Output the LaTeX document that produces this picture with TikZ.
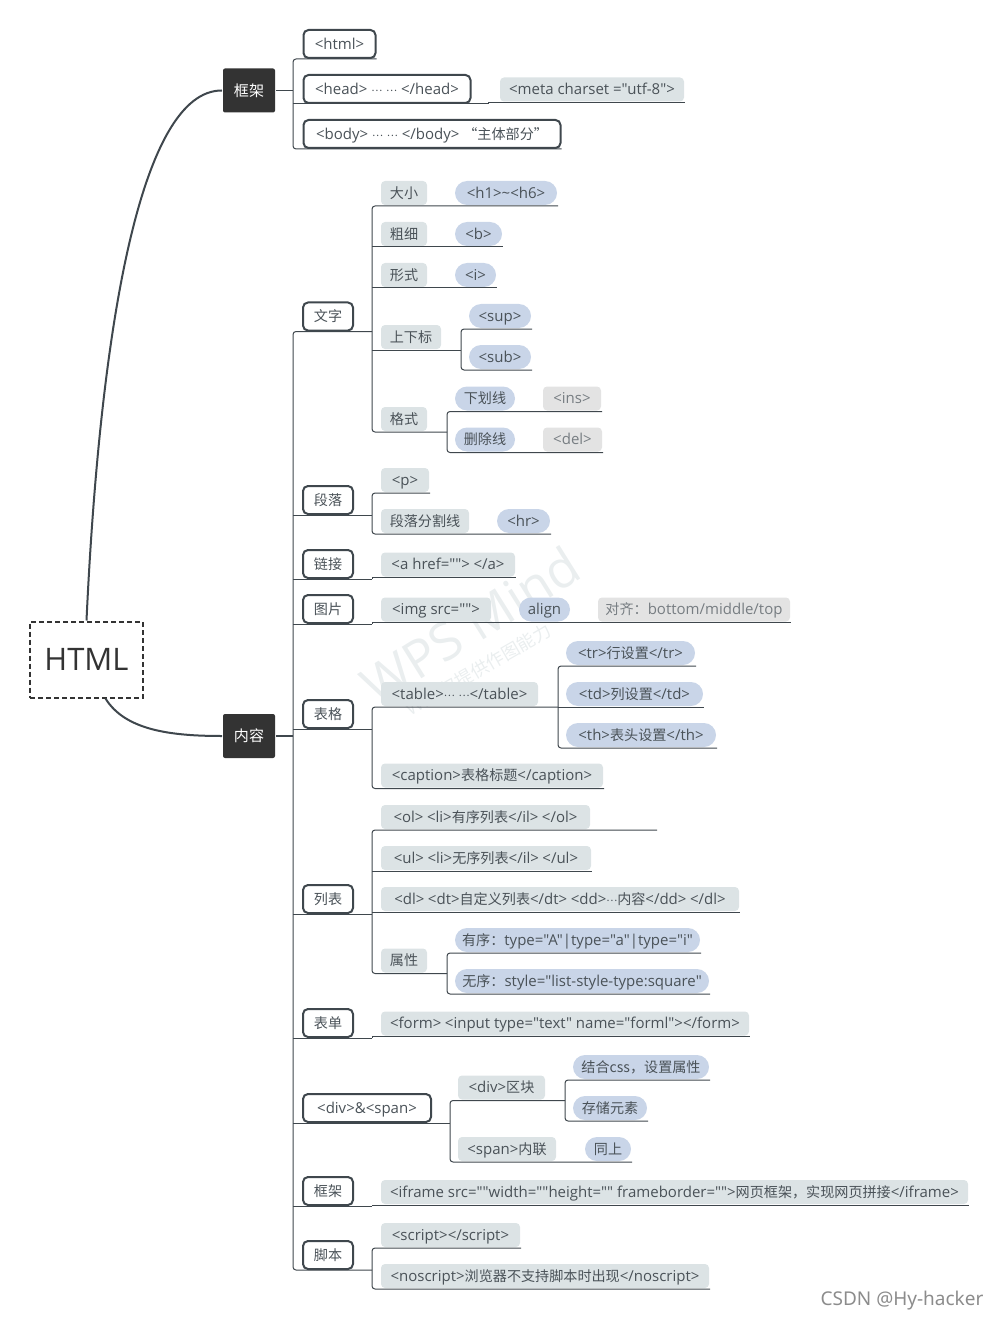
\documentclass[tikz,border=0pt]{standalone}
\usepackage{fontspec}
\setmainfont{Open Sans}[Ligatures=TeXOff]
\newfontfamily\cjk{Noto Sans CJK SC}[Ligatures=TeXOff, Scale=0.94]
\newfontfamily\signfont{Noto Sans}
\newcommand{\zh}[1]{{\cjk #1}}
\newcommand{\middots}{\raisebox{3pt}{\zh{\fontsize{11}{11}\selectfont ⋯}}}
\newcommand{\taggap}{\hspace{3.5pt}}
\usetikzlibrary{calc}
\definecolor{mydark}{HTML}{333333}
\definecolor{myline}{HTML}{3F474D}
\definecolor{mytext}{HTML}{4A5258}
\definecolor{mygrey}{HTML}{DCE3E5}
\definecolor{myblue}{HTML}{C9D5E8}
\definecolor{mylight}{HTML}{E3E3E3}

\begin{document}
\begin{tikzpicture}[x=1pt, y=-1pt, outer sep=1pt]
\useasboundingbox (0,0) rectangle (999,1321);
\tikzset{RootStyle/.style = {draw=mydark, line width=2pt, dash pattern=on 5pt off 3pt, minimum width=113pt, minimum height=76pt, inner sep=0pt, text=mydark, font=\fontsize{31}{31}\selectfont}}
\tikzset{TopicStyle/.style = {fill=mydark, rounded corners=2pt, minimum width=52pt, minimum height=44pt, inner sep=0pt, text=white, font=\fontsize{16}{16}\selectfont}}
\tikzset{RowStyle/.style = {inner sep=0pt, text=mytext, text height=13.5pt, text depth=3pt, font=\fontsize{15}{15}\selectfont}}
\tikzset{FrameStyle/.style = {RowStyle, draw=myline, line width=2pt, fill=white, rounded corners=5pt, minimum height=28pt}}
\tikzset{GreyStyle/.style = {RowStyle, fill=mygrey, rounded corners=4pt, minimum height=24pt}}
\tikzset{BlueStyle/.style = {GreyStyle, fill=myblue, rounded corners=12pt}}
\tikzset{LightStyle/.style = {GreyStyle, fill=mylight, text=mytext!75}}
\tikzset{LinkStyle/.style = {draw=myline, line width=1pt, rounded corners=3pt}}
\tikzset{CurveStyle/.style = {draw=myline, line width=2pt}}

% watermark
\node[rotate=32, text=mygrey!60, font=\fontsize{52}{52}\selectfont] (mark-a) at (470,625) {WPS Mind};
\node[rotate=30, text=mygrey!60, font=\fontsize{19}{19}\selectfont] (mark-b) at (478,670) {WPS\zh{仅提供作图能力}};

% centre and the two topics
\node[RootStyle] (root) at (86.5,659.5) {HTML};
\node[TopicStyle] (frame) at (249,90.5) {\zh{框架}};
\node[TopicStyle] (content) at (249,736) {\zh{内容}};
\draw[CurveStyle] (root.north) .. controls (100,330) and (140,90) .. (frame.west);
\draw[CurveStyle] ([xshift=19pt]root.south) .. controls (125,730) and (170,736) .. (content.west);

% spines
\coordinate (main-spine) at (293,0);
\coordinate (sub-spine) at (372,0);
\coordinate (div-spine) at (450,0);
\coordinate (sup-spine) at (461,0);
\coordinate (fmt-spine) at (447,0);
\coordinate (tab-spine) at (558,0);
\coordinate (box-spine) at (565,0);

% frame part
\node[FrameStyle, minimum width=72pt] (f-html) at (339.5,44) {<html>};
\node[FrameStyle, minimum width=167pt] (f-head) at (387,89) {<head> \middots\ \middots\ </head>};
\node[FrameStyle, minimum width=257pt] (f-body) at (432,134) {<body> \middots\ \middots\ </body> \zh{“主体部分”}};
\node[GreyStyle, minimum width=184pt] (f-meta) at (592,89.5) {<meta charset ="utf-8">};
\draw[LinkStyle] (frame.east) -- (frame.east -| main-spine);
\draw[LinkStyle] (f-html.south east) -- (f-html.south -| main-spine) -- (f-body.south -| main-spine) -- (f-body.south east);
\draw[LinkStyle, rounded corners=0pt] (f-head.south -| main-spine) -- ([xshift=-11pt]f-meta.south west |- f-head.south) -- ([xshift=-11pt]f-meta.south west) -- (f-meta.south east);

% content part, second level
\node[FrameStyle, minimum width=50pt] (txt) at (328,316.5) {\zh{文字}};
\node[FrameStyle, minimum width=50pt] (para) at (328,500) {\zh{段落}};
\node[FrameStyle, minimum width=50pt] (link) at (328,564) {\zh{链接}};
\node[FrameStyle, minimum width=50pt] (img) at (328,609) {\zh{图片}};
\node[FrameStyle, minimum width=50pt] (tab) at (328,714) {\zh{表格}};
\node[FrameStyle, minimum width=50pt] (list) at (328,899) {\zh{列表}};
\node[FrameStyle, minimum width=50pt] (form) at (328,1023) {\zh{表单}};
\node[FrameStyle, minimum width=128pt] (div) at (367,1108) {<div>\&<span>};
\node[FrameStyle, minimum width=50pt] (iframe) at (328,1191) {\zh{框架}};
\node[FrameStyle, minimum width=50pt] (script) at (328,1255) {\zh{脚本}};
\draw[LinkStyle, line width=2pt] (content.east) -- (content.east -| main-spine);
\draw[LinkStyle] (txt.south -| sub-spine) -- (txt.south -| main-spine) -- (script.south -| main-spine) -- (script.south -| sub-spine);
\foreach \name in {para, link, img, tab, list, form, iframe}
    \draw[LinkStyle] (\name.south -| main-spine) -- (\name.south -| sub-spine);
\draw[LinkStyle] (div.south -| main-spine) -- (div.south -| div-spine);

% text
\node[GreyStyle, minimum width=46pt] (t-size) at (404,193) {\zh{大小}};
\node[BlueStyle, minimum width=102pt] (t-h) at (506,193) {<h1>\textasciitilde<h6>};
\node[GreyStyle, minimum width=46pt] (t-bold) at (404,234) {\zh{粗细}};
\node[BlueStyle, minimum width=47pt] (t-b) at (478.5,234) {<b>};
\node[GreyStyle, minimum width=46pt] (t-form) at (404,275) {\zh{形式}};
\node[BlueStyle, minimum width=41pt] (t-i) at (475.5,275) {<i>};
\node[GreyStyle, minimum width=60pt] (t-script) at (411,337) {\zh{上下标}};
\node[BlueStyle, minimum width=62pt] (t-sup) at (500,316) {<sup>};
\node[BlueStyle, minimum width=62pt] (t-sub) at (500,357) {<sub>};
\node[GreyStyle, minimum width=46pt] (t-fmt) at (404,419) {\zh{格式}};
\node[BlueStyle, minimum width=60pt] (t-under) at (485,398.5) {\zh{下划线}};
\node[LightStyle, minimum width=58pt] (t-ins) at (572,398.5) {<ins>};
\node[BlueStyle, minimum width=60pt] (t-strike) at (485,439.5) {\zh{删除线}};
\node[LightStyle, minimum width=59pt] (t-del) at (572.5,439.5) {<del>};
\draw[LinkStyle] (t-h.south east) -- (t-h.south -| sub-spine) -- (t-fmt.south -| sub-spine) -- (t-fmt.south -| fmt-spine);
\draw[LinkStyle] (t-bold.south -| sub-spine) -- (t-b.south east);
\draw[LinkStyle] (t-form.south -| sub-spine) -- (t-i.south east);
\draw[LinkStyle] (t-script.south -| sub-spine) -- (t-script.south -| sup-spine);
\draw[LinkStyle] (t-sup.south east) -- (t-sup.south -| sup-spine) -- (t-sub.south -| sup-spine) -- (t-sub.south east);
\draw[LinkStyle] (t-ins.south east) -- (t-under.south -| fmt-spine) -- (t-strike.south -| fmt-spine) -- (t-del.south east);

% paragraph
\node[GreyStyle, minimum width=48pt] (p-p) at (405,480) {<p>};
\node[GreyStyle, minimum width=88pt] (p-line) at (425,521) {\zh{段落分割线}};
\node[BlueStyle, minimum width=53pt] (p-hr) at (523.5,521) {<hr>};
\draw[LinkStyle] (p-p.south east) -- (p-p.south -| sub-spine) -- (p-line.south -| sub-spine) -- (p-hr.south east);

% link and image
\node[GreyStyle, minimum width=134pt] (l-a) at (448,564.5) {<a href="">\taggap</a>};
\draw[LinkStyle] (l-a.south -| sub-spine) -- (l-a.south east);
\draw[LinkStyle, rounded corners=0pt] (link.south -| sub-spine) -- (l-a.south -| sub-spine);
\node[GreyStyle, minimum width=110pt] (i-src) at (436,609.5) {<img src="">};
\node[BlueStyle, minimum width=51pt] (i-align) at (544.5,609.5) {align};
\node[LightStyle, minimum width=192pt] (i-pos) at (694,609.5) {\zh{对齐：}bottom/middle/top};
\draw[LinkStyle, rounded corners=0pt] (img.south -| sub-spine) -- (i-src.south -| sub-spine) -- (i-pos.south east);

% table
\node[GreyStyle, minimum width=157pt] (b-table) at (459.5,694) {<table>\middots\ \middots</table>};
\node[GreyStyle, minimum width=222pt] (b-cap) at (492,775.5) {<caption>\zh{表格标题}</caption>};
\node[BlueStyle, minimum width=129pt] (b-tr) at (630.5,653) {<tr>\zh{行设置}</tr>};
\node[BlueStyle, minimum width=137pt] (b-td) at (634.5,694) {<td>\zh{列设置}</td>};
\node[BlueStyle, minimum width=150pt] (b-th) at (641,735) {<th>\zh{表头设置}</th>};
\draw[LinkStyle] (b-td.south -| tab-spine) -- (b-table.south -| sub-spine) -- (b-cap.south -| sub-spine) -- (b-cap.south east);
\draw[LinkStyle] (b-tr.south east) -- (b-tr.south -| tab-spine) -- (b-th.south -| tab-spine) -- (b-th.south east);
\draw[LinkStyle] (b-td.south -| tab-spine) -- (b-td.south east);

% list
\node[GreyStyle, minimum width=209pt] (s-ol) at (485.5,817) {<ol>\taggap<li>\zh{有序列表}</il>\taggap</ol>};
\node[GreyStyle, minimum width=210pt] (s-ul) at (486,858) {<ul>\taggap<li>\zh{无序列表}</il>\taggap</ul>};
\node[GreyStyle, minimum width=358pt] (s-dl) at (560,899) {<dl>\taggap<dt>\zh{自定义列表}</dt>\taggap<dd>\middots\zh{内容}</dd>\taggap</dl>};
\node[GreyStyle, minimum width=46pt] (s-attr) at (404,960.5) {\zh{属性}};
\node[BlueStyle, minimum width=245pt] (s-order) at (577.5,940) {\zh{有序：}type="A"|type="a"|type="i"};
\node[BlueStyle, minimum width=254pt] (s-plain) at (582,981) {\zh{无序：}style="list-style-type:square"};
\coordinate (s-end) at (657,0);
\draw[LinkStyle] (s-ol.south -| s-end) -- (s-ol.south -| sub-spine) -- (s-attr.south -| sub-spine) -- (s-attr.south -| fmt-spine);
\draw[LinkStyle] (s-ul.south -| sub-spine) -- (s-ul.south east);
\draw[LinkStyle] (s-dl.south -| sub-spine) -- (s-dl.south east);
\draw[LinkStyle] (s-order.south east) -- (s-order.south -| fmt-spine) -- (s-plain.south -| fmt-spine) -- (s-plain.south east);

% form
\node[GreyStyle, minimum width=368pt] (m-input) at (565,1023.5) {<form>\taggap<input type="text" name="forml"></form>};
\draw[LinkStyle, rounded corners=0pt] (form.south -| sub-spine) -- (m-input.south -| sub-spine) -- (m-input.south east);

% div and span
\node[GreyStyle, minimum width=87pt] (d-div) at (501.5,1087.5) {<div>\zh{区块}};
\node[GreyStyle, minimum width=98pt] (d-span) at (507,1149) {<span>\zh{内联}};
\node[BlueStyle, minimum width=136pt] (d-css) at (641,1067) {\zh{结合css，设置属性}};
\node[BlueStyle, minimum width=74pt] (d-keep) at (610,1108) {\zh{存储元素}};
\node[BlueStyle, minimum width=46pt] (d-same) at (608,1149) {\zh{同上}};
\draw[LinkStyle] (d-div.south -| box-spine) -- (d-div.south -| div-spine) -- (d-span.south -| div-spine) -- (d-same.south east);
\draw[LinkStyle] (d-css.south east) -- (d-css.south -| box-spine) -- (d-keep.south -| box-spine) -- (d-keep.south east);

% iframe
\node[GreyStyle, minimum width=587pt] (r-src) at (674.5,1192) {<iframe src=""width=""height="" frameborder="">\zh{网页框架，实现网页拼接}</iframe>};
\draw[LinkStyle, rounded corners=0pt] (iframe.south -| sub-spine) -- (r-src.south -| sub-spine) -- (r-src.south east);

% script
\node[GreyStyle, minimum width=139pt] (c-script) at (450.5,1235) {<script></script>};
\node[GreyStyle, minimum width=328pt] (c-none) at (545,1276) {<noscript>\zh{浏览器不支持脚本时出现}</noscript>};
\draw[LinkStyle] (c-script.south east) -- (c-script.south -| sub-spine) -- (c-none.south -| sub-spine) -- (c-none.south east);

\node[text=black!45, font=\signfont\fontsize{19}{19}\selectfont] (sign) at (902,1301) {CSDN @Hy-hacker};
\end{tikzpicture}
\end{document}
